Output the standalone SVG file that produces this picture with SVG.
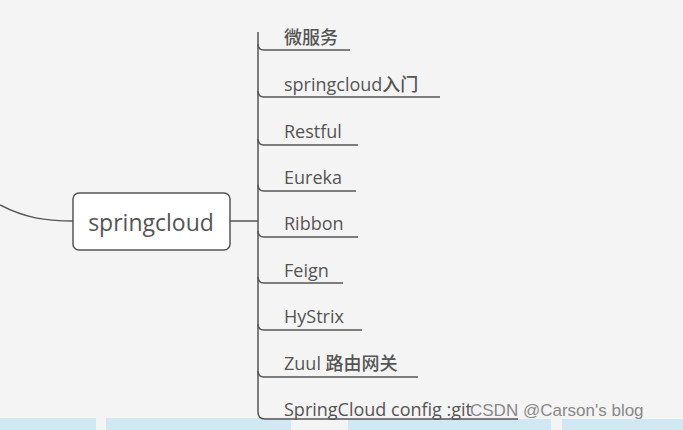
<svg xmlns="http://www.w3.org/2000/svg" width="683" height="430" viewBox="0 0 683 430">
<style>
.ln{fill:none;stroke:#555;stroke-width:1.5}
.t{font-family:"Open Sans","Noto Sans CJK SC",sans-serif;font-size:18px;font-weight:500;fill:#555}
</style>
<rect width="683" height="430" fill="#f4f4f4"/>
<g id="bottom-band" fill="#cfe8f2">
<rect x="0" y="418" width="96" height="12"/><rect x="106" y="418" width="185" height="12"/><rect x="348" y="419" width="203" height="11"/><rect x="562" y="419" width="121" height="11"/>
</g>
<g id="connectors">
<path class="ln" d="M0,205 C25,218 45,221 73,221" stroke-width="2"/>
<path class="ln" d="M230,221 H258" stroke-width="2.5"/>
<path class="ln" d="M258,32 V412"/>
<path class="ln" d="M258,44 Q258,50 264,50 H350"/>
<path class="ln" d="M258,91 Q258,97 264,97 H440"/>
<path class="ln" d="M258,139 Q258,145 264,145 H358"/>
<path class="ln" d="M258,185 Q258,191 264,191 H356"/>
<path class="ln" d="M258,231 Q258,237 264,237 H358"/>
<path class="ln" d="M258,277 Q258,283 264,283 H343"/>
<path class="ln" d="M258,324 Q258,330 264,330 H362"/>
<path class="ln" d="M258,371 Q258,377 264,377 H418"/>
<path class="ln" d="M258,412 Q258,419 265,419 H518"/>
</g>
<g id="root">
<rect x="73" y="193" width="157" height="57" rx="6" fill="#fff" stroke="#555" stroke-width="1.5"/>
<text x="151" y="231" text-anchor="middle" font-family="Open Sans,sans-serif" font-size="23" fill="#555">springcloud</text>
</g>
<g id="n1"><text class="t" x="284" y="44">微服务</text></g>
<g id="n2"><text class="t" x="284" y="91">springcloud入门</text></g>
<g id="n3"><text class="t" x="284" y="138">Restful</text></g>
<g id="n4"><text class="t" x="284" y="184">Eureka</text></g>
<g id="n5"><text class="t" x="284" y="230">Ribbon</text></g>
<g id="n6"><text class="t" x="284" y="277">Feign</text></g>
<g id="n7"><text class="t" x="284" y="323">HyStrix</text></g>
<g id="n8"><text class="t" x="284" y="370">Zuul 路由网关</text></g>
<g id="n9"><text class="t" x="284" y="416">SpringCloud config :git</text></g>
<text x="470" y="416" font-family="Liberation Sans,sans-serif" font-size="17" fill="#888">CSDN @Carson's  blog</text>
</svg>
